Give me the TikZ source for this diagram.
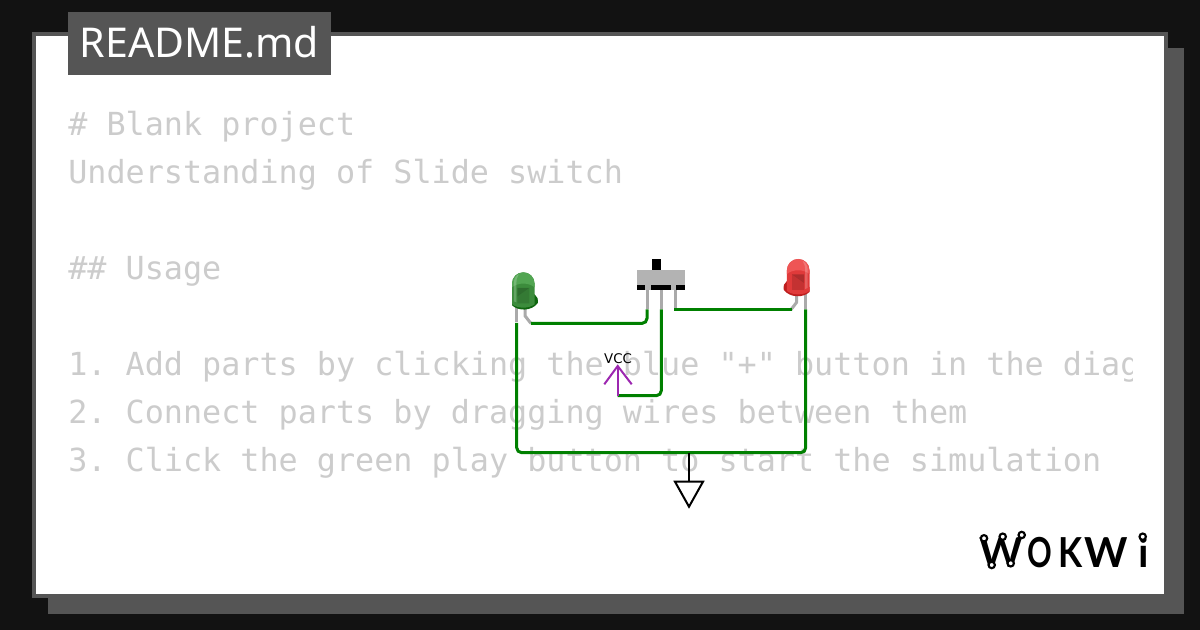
\documentclass[tikz,border=0pt]{standalone}
\usepackage{fontspec}
\setmainfont{Noto Sans}
\newfontfamily\monofont{DejaVu Sans Mono}
\newfontfamily\labelfont{DejaVu Sans}
\newfontfamily\logofont{Lato}
\usepackage{tikz}

\definecolor{pagedark}{HTML}{121212}
\definecolor{panelgray}{HTML}{555555}
\definecolor{mdtext}{HTML}{CCCCCC}
\definecolor{wiregreen}{HTML}{008000}
\definecolor{pingray}{HTML}{AAAAAA}
\definecolor{bodygray}{HTML}{B3B3B3}
\definecolor{vccpurple}{HTML}{9C27B0}
\definecolor{grim}{HTML}{0F660F}
\definecolor{gbody}{HTML}{3C8C3C}
\definecolor{gdome}{HTML}{52A552}
\definecolor{rrim}{HTML}{BE1E1E}
\definecolor{rbody}{HTML}{E03A3A}
\definecolor{rdome}{HTML}{EE5555}

% #1 centre x, #2 top y, #3 flip, #4 rim, #5 body, #6 dome light
\newcommand{\drawled}[6]{
  \begin{scope}[shift={(#1,#2)}, xscale=#3]
    \draw[pin] (-7,34) -- (-7,50);
    \draw[pin, line join=round] (1.7,34) -- (1.7,43.5) -- (7.5,51);
    \fill[#4] (-11.3,28) -- (-11.3,33) .. controls (-5,39) and (8,39) .. (14.4,31) .. controls (15.2,27) and (14,24) .. (11.3,22) -- cycle;
    \fill[#5] (-11.3,32) -- (-11.3,11.3) arc (180:360:11.3) -- (11.3,32) .. controls (5,36.5) and (-5,36.5) .. (-11.3,32) -- cycle;
    \fill[#6] (-11.3,15) -- (-11.3,11.3) arc (180:360:11.3) -- (11.3,15) .. controls (5,10) and (-5,10) .. (-11.3,15) -- cycle;
    \fill[white, opacity=.2] (-9.5,29) -- (-9.5,11) .. controls (-9.5,6) and (-7,3) .. (-4.5,2) .. controls (-6.5,5) and (-7,8) .. (-7,11) -- (-7,30) -- cycle;
    \fill[black, opacity=.22] (-6,15.5) -- (6,15.5) -- (-6,24) -- cycle;
    \fill[black, opacity=.12] (-6,24) -- (6,15.5) -- (6,31) -- (-6,31) -- cycle;
  \end{scope}
}

\begin{document}
\begin{tikzpicture}[x=0.75pt, y=-0.75pt, wire/.style={draw=wiregreen, line width=2.25pt, rounded corners=3.75pt}, pin/.style={draw=pingray, line width=2.25pt}, sym/.style={line width=1.5pt, line join=miter}, mdline/.style={anchor=base west, inner sep=0pt, text=mdtext, font=\monofont\frenchspacing\fontsize{23.83pt}{28pt}\selectfont}, via/.style={draw=black, fill=white, line width=1.6pt}]
            \useasboundingbox (0,0) rectangle (1200,630);
            % panel
            \fill[pagedark] (0,0) rectangle (1200,630);
            \fill[panelgray] (48,48) rectangle (1184,614);
            \fill[panelgray] (32,32) rectangle (1168,598);
            \fill[white] (36,36) rectangle (1164,594);
            \fill[panelgray] (68,12) rectangle (331,74.7);
            \node[anchor=base, inner sep=0pt, text=white, font=\fontsize{30.8pt}{36pt}\selectfont] (readme) at (199.5,58) {README.md};
            % markdown
            \begin{scope}
            \clip (68,76) rectangle (1132,594);
            \node[mdline] (title) at (68,136) {\# Blank project};
            \node[mdline] (about) at (68,184) {Understanding of Slide switch};
            \node[mdline] (usage) at (68,280) {\#\# Usage};
            \node[mdline] (one) at (68,376) {1. Add parts by clicking the blue "+" button in the diag};
            \node[mdline] (two) at (68,424) {2. Connect parts by dragging wires between them};
            \node[mdline] (three) at (68,472) {3. Click the green play button to start the simulation};
            \end{scope}
            % parts
            \drawled{523.3}{272.3}{1}{grim}{gbody}{gdome}
            \drawled{798.2}{259}{-1}{rrim}{rbody}{rdome}
            \node[fill=bodygray, inner sep=0pt, minimum width=35.5pt, minimum height=11.25pt] (sw) at (661,277.5) {};
            \fill[black] (652.3,259) rectangle (660.7,270);
            \fill[black] (637.3,285) rectangle (684.7,290);
            \fill[bodygray] (645,285) rectangle (651.3,290);
            \fill[bodygray] (671,285) rectangle (676,290);
            % pins
            \coordinate (gledA) at (516.7,323);
            \coordinate (gledB) at (530.8,323.4);
            \coordinate (swA) at (647,309.3);
            \coordinate (swB) at (661.3,309.3);
            \coordinate (swC) at (674.3,309.3);
            \coordinate (rledA) at (805.7,309.3);
            \coordinate (rledB) at (791.7,309.3);
            \coordinate (vcc) at (617.7,395.7);
            \coordinate (gnd) at (689,452.7);
            \coordinate (gndtop) at (689,481.7);
            \draw[pin] (647,290) -- (swA);
            \draw[pin] (661.3,290) -- (swB);
            \draw[pin] (675,290) -- (675,309.3);
            % edges
            \draw[wire] (gledB) -| (swA);
            \draw[wire] (swB) |- (vcc);
            \draw[wire] (swC) -- (rledB);
            \draw[wire] (rledA) |- (gnd) -| (gledA);
            % symbols
            \draw[sym] (gnd) -- (gndtop);
            \draw[sym] (gndtop) -- ++(-14,0) -- ++(14,25) -- ++(14,-25) -- cycle;
            \draw[sym, draw=vccpurple] (vcc) -- ++(0,-29.7);
            \draw[sym, draw=vccpurple] (604.3,384.3) -- ++(13.4,-18.3) -- ++(14,18.3);
            \node[inner sep=0pt, font=\labelfont\fontsize{10pt}{12pt}\selectfont] (vcclabel) at (618,358.5) {VCC};
            % logo
            \node[anchor=base west, inner sep=0pt, font=\logofont\bfseries\fontsize{31pt}{36pt}\selectfont] (logo) at (979,568) {W\kern3.5pt\scalebox{.74}[1]{O}\kern5pt\scalebox{.85}[1]{K}\kern1.5pt\scalebox{1}[1]{W}\kern8pt i};
            \foreach \vx/\vy in {984/538.3, 1002.7/536.7, 1021.7/535, 991.7/565, 1010.7/563.3, 1142.7/536.7}
              \draw[via] (\vx,\vy) circle (3.2);
        \end{tikzpicture}
\end{document}
